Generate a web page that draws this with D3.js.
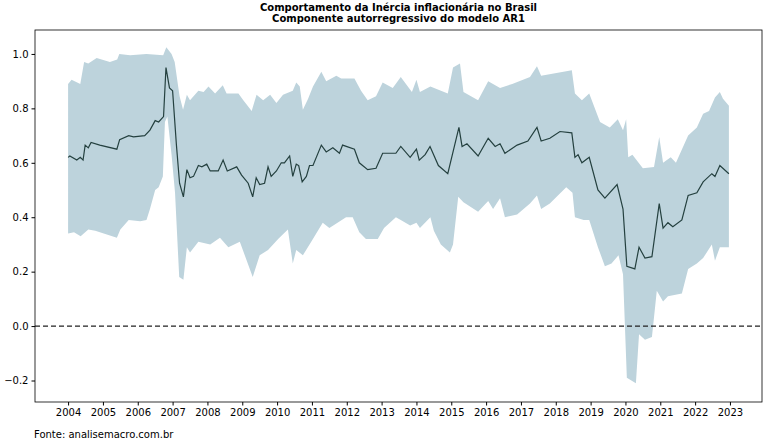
<!DOCTYPE html>
<html><head><meta charset="utf-8">
<script src="https://cdn.jsdelivr.net/npm/d3@7"></script>
<style>body{margin:0;background:#fff}text{font-family:"DejaVu Sans",sans-serif}</style>
</head><body>
<svg id="chart" width="768" height="445"></svg>
<script>
// coeficiente AR1 (média) [ano, valor]
const meanPts = [[2004.0,.62],[2004.05,.625],[2004.25,.61],[2004.35,.62],[2004.43,.61],[2004.49,.665],[2004.58,.655],[2004.66,.675],[2004.91,.665],[2005.4,.65],[2005.48,.685],[2005.74,.70],[2005.88,.695],[2006.2,.70],[2006.35,.72],[2006.5,.755],[2006.6,.75],[2006.74,.77],[2006.81,.95],[2006.91,.875],[2007.0,.865],[2007.11,.665],[2007.2,.525],[2007.31,.475],[2007.41,.575],[2007.5,.545],[2007.6,.55],[2007.74,.59],[2007.84,.585],[2007.98,.595],[2008.08,.57],[2008.31,.57],[2008.45,.61],[2008.57,.57],[2008.84,.585],[2008.98,.555],[2009.17,.525],[2009.3,.475],[2009.4,.545],[2009.5,.52],[2009.64,.525],[2009.74,.585],[2009.83,.55],[2009.98,.57],[2010.12,.60],[2010.21,.60],[2010.36,.625],[2010.45,.55],[2010.55,.595],[2010.62,.59],[2010.72,.53],[2010.84,.55],[2010.93,.59],[2011.03,.59],[2011.27,.665],[2011.41,.64],[2011.6,.655],[2011.79,.635],[2011.88,.665],[2012.22,.65],[2012.36,.60],[2012.6,.575],[2012.84,.58],[2013.03,.635],[2013.41,.635],[2013.55,.66],[2013.82,.62],[2014.0,.65],[2014.08,.61],[2014.25,.63],[2014.39,.66],[2014.63,.59],[2014.9,.56],[2015.22,.73],[2015.31,.66],[2015.45,.67],[2015.77,.625],[2016.06,.69],[2016.26,.66],[2016.4,.67],[2016.54,.635],[2016.89,.665],[2017.2,.68],[2017.46,.73],[2017.58,.68],[2017.83,.69],[2018.12,.715],[2018.46,.71],[2018.55,.62],[2018.64,.63],[2018.75,.60],[2018.96,.62],[2019.21,.50],[2019.41,.47],[2019.76,.52],[2019.93,.43],[2020.04,.22],[2020.27,.21],[2020.39,.29],[2020.56,.25],[2020.76,.255],[2020.97,.45],[2021.08,.36],[2021.22,.38],[2021.36,.365],[2021.62,.39],[2021.8,.48],[2022.05,.49],[2022.23,.53],[2022.48,.56],[2022.57,.55],[2022.71,.59],[2022.97,.56]];
const upperPts = [[2004.0,.89],[2004.1,.905],[2004.35,.89],[2004.46,.97],[2004.58,.965],[2004.82,.985],[2005.2,.97],[2005.41,.98],[2005.47,1.0],[2005.78,.995],[2006.25,1.0],[2006.73,.995],[2006.82,1.025],[2006.97,1.0],[2007.06,.97],[2007.2,.845],[2007.3,.795],[2007.41,.85],[2007.5,.83],[2007.74,.865],[2007.89,.86],[2008.03,.88],[2008.22,.855],[2008.44,.885],[2008.55,.855],[2008.89,.855],[2009.03,.83],[2009.27,.79],[2009.41,.85],[2009.6,.83],[2009.8,.85],[2009.98,.82],[2010.17,.85],[2010.45,.865],[2010.55,.895],[2010.65,.88],[2010.74,.795],[2010.89,.835],[2011.03,.88],[2011.27,.935],[2011.41,.90],[2011.7,.92],[2011.84,.91],[2012.22,.91],[2012.41,.865],[2012.6,.83],[2012.84,.845],[2013.03,.895],[2013.32,.875],[2013.55,.915],[2013.87,.86],[2014.0,.905],[2014.1,.86],[2014.4,.88],[2014.9,.855],[2015.05,.95],[2015.25,.965],[2015.35,.86],[2015.77,.83],[2016.06,.90],[2016.4,.875],[2016.75,.89],[2017.26,.915],[2017.46,.955],[2017.58,.92],[2018.46,.94],[2018.55,.855],[2018.75,.83],[2018.96,.855],[2019.27,.75],[2019.55,.73],[2019.78,.76],[2019.93,.72],[2020.02,.76],[2020.08,.62],[2020.2,.63],[2020.5,.58],[2020.82,.585],[2020.97,.695],[2021.08,.60],[2021.3,.62],[2021.45,.60],[2021.8,.70],[2022.05,.73],[2022.23,.78],[2022.4,.79],[2022.57,.84],[2022.71,.86],[2022.8,.835],[2022.97,.81]];
const lowerPts = [[2004.0,.34],[2004.17,.345],[2004.36,.33],[2004.58,.355],[2004.78,.35],[2005.4,.325],[2005.5,.355],[2005.74,.39],[2006.07,.385],[2006.25,.39],[2006.35,.43],[2006.5,.50],[2006.6,.51],[2006.72,.55],[2006.78,.75],[2006.85,.77],[2006.97,.63],[2007.07,.49],[2007.19,.18],[2007.31,.17],[2007.41,.29],[2007.5,.27],[2007.74,.31],[2008.08,.30],[2008.36,.325],[2008.6,.29],[2008.93,.31],[2009.3,.18],[2009.5,.26],[2009.74,.28],[2010.03,.32],[2010.31,.355],[2010.45,.23],[2010.55,.28],[2010.74,.26],[2010.98,.31],[2011.31,.38],[2011.5,.36],[2011.98,.40],[2012.17,.40],[2012.36,.345],[2012.55,.32],[2012.89,.32],[2013.07,.36],[2013.41,.40],[2013.55,.39],[2013.82,.37],[2014.0,.38],[2014.1,.36],[2014.4,.40],[2014.5,.35],[2014.7,.30],[2014.96,.27],[2015.05,.30],[2015.2,.475],[2015.35,.455],[2015.77,.42],[2016.06,.46],[2016.2,.43],[2016.4,.47],[2016.54,.40],[2016.89,.41],[2017.26,.45],[2017.46,.48],[2017.58,.43],[2017.83,.45],[2018.3,.51],[2018.48,.49],[2018.55,.40],[2018.8,.39],[2018.96,.39],[2019.21,.29],[2019.41,.22],[2019.6,.23],[2019.8,.26],[2019.93,.19],[2020.04,-.19],[2020.3,-.21],[2020.39,-.03],[2020.56,-.05],[2020.76,-.04],[2020.9,.13],[2021.08,.09],[2021.22,.11],[2021.62,.12],[2021.8,.21],[2022.05,.23],[2022.23,.25],[2022.48,.30],[2022.57,.24],[2022.71,.29],[2022.97,.29]];
const xTicks = d3.range(2004, 2024);
const yTicks = [-0.2, 0.0, 0.2, 0.4, 0.6, 0.8, 1.0];

const margin = {top: 30, right: 6, bottom: 43, left: 35};
const W = 768, H = 445;
const width = W - margin.left - margin.right, height = H - margin.top - margin.bottom;
const svg = d3.select('#chart').append('g').attr('transform', `translate(${margin.left},${margin.top})`);

const x = d3.scaleLinear().domain([2003.05, 2023.92]).range([0, width]);
const y = d3.scaleLinear().domain([-0.279, 1.088]).range([height, 0]);

const line = d3.line().x(d => x(d[0])).y(d => y(d[1]));

// banda de confiança
svg.append('path')
  .attr('d', line(upperPts.concat(lowerPts.slice().reverse())) + 'Z')
  .attr('fill', '#bdd3dc');

svg.append('line').attr('x1', 0).attr('x2', width).attr('y1', y(0)).attr('y2', y(0))
  .attr('stroke', '#222').attr('stroke-width', 1.4).attr('stroke-dasharray', '5,3');

svg.append('path').datum(meanPts).attr('d', line)
  .attr('fill', 'none').attr('stroke', '#24403f').attr('stroke-width', 1.2);

const xAxis = svg.append('g').attr('transform', `translate(0,${height})`)
  .call(d3.axisBottom(x).tickValues(xTicks).tickFormat(d3.format('d')).tickSize(3.5).tickSizeOuter(0));
const yAxis = svg.append('g')
  .call(d3.axisLeft(y).tickValues(yTicks).tickFormat(d3.format('.1f')).tickSize(3.5).tickSizeOuter(0));
[xAxis, yAxis].forEach(a => {
  a.selectAll('text').attr('font-size', 10).attr('fill', '#000').style('font-family', '"DejaVu Sans",sans-serif');
  a.select('.domain').remove();
});

svg.append('rect').attr('width', width).attr('height', height)
  .attr('fill', 'none').attr('stroke', '#000').attr('stroke-width', 0.8);

svg.append('text').attr('x', width / 2).attr('y', -19).attr('text-anchor', 'middle')
  .attr('font-size', 10).attr('font-weight', 'bold').text('Comportamento da Inércia inflacionária no Brasil');
svg.append('text').attr('x', width / 2).attr('y', -8).attr('text-anchor', 'middle')
  .attr('font-size', 10).attr('font-weight', 'bold').text('Componente autorregressivo do modelo AR1');

d3.select('#chart').append('text').attr('x', 34).attr('y', 438)
  .attr('font-size', 10).text('Fonte: analisemacro.com.br');
</script>
</body></html>
